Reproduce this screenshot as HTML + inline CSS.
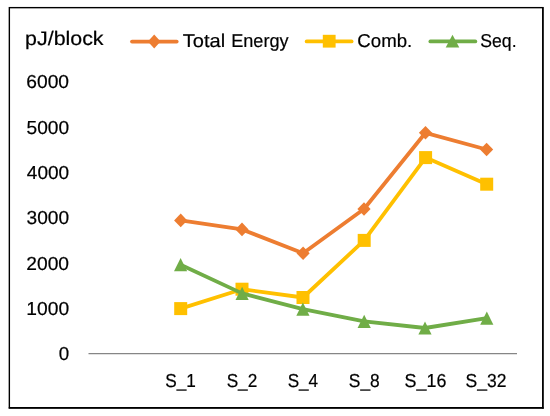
<!DOCTYPE html>
<html><head><meta charset="utf-8"><title>Chart</title>
<style>
html,body{margin:0;padding:0;background:#fff;}
body{width:550px;height:416px;overflow:hidden;}
svg{display:block;}
text{font-family:"Liberation Sans",sans-serif;fill:#000;stroke:#000;stroke-width:0.2px;text-rendering:geometricPrecision;}
</style></head><body>
<svg width="550" height="416" viewBox="0 0 550 416">
<rect x="0" y="0" width="550" height="416" fill="#fff"/>
<rect x="9.35" y="7.65" width="533.4" height="400.05" fill="#fff" stroke="#000" stroke-width="1.4"/>
<line x1="542.95" y1="7" x2="542.95" y2="408.75" stroke="#000" stroke-width="1.4"/>
<line x1="8.65" y1="407.95" x2="543.75" y2="407.95" stroke="#000" stroke-width="1.6"/>
<line x1="88.5" y1="353.6" x2="517" y2="353.6" stroke="#868686" stroke-width="1.3"/>
<polyline fill="none" stroke="#ED7D31" stroke-width="3.8" stroke-linejoin="round" stroke-linecap="round" points="180.7,220.4 242.0,229.4 303.1,253.3 364.0,209.0 425.5,132.8 486.6,149.5"/>
<polygon fill="#ED7D31" points="174.1,220.4 180.7,213.6 187.3,220.4 180.7,227.2"/>
<polygon fill="#ED7D31" points="235.4,229.4 242.0,222.6 248.6,229.4 242.0,236.2"/>
<polygon fill="#ED7D31" points="296.5,253.3 303.1,246.5 309.7,253.3 303.1,260.1"/>
<polygon fill="#ED7D31" points="357.4,209.0 364.0,202.2 370.6,209.0 364.0,215.8"/>
<polygon fill="#ED7D31" points="418.9,132.8 425.5,126.0 432.1,132.8 425.5,139.6"/>
<polygon fill="#ED7D31" points="480.0,149.5 486.6,142.7 493.2,149.5 486.6,156.3"/>
<polyline fill="none" stroke="#FFC000" stroke-width="3.8" stroke-linejoin="round" stroke-linecap="round" points="180.7,308.6 242.0,289.2 303.0,297.5 364.2,240.4 425.6,157.6 486.7,184.2"/>
<rect fill="#FFC000" x="174.2" y="302.1" width="13.0" height="13.0"/>
<rect fill="#FFC000" x="235.5" y="282.7" width="13.0" height="13.0"/>
<rect fill="#FFC000" x="296.5" y="291.0" width="13.0" height="13.0"/>
<rect fill="#FFC000" x="357.7" y="233.9" width="13.0" height="13.0"/>
<rect fill="#FFC000" x="419.1" y="151.1" width="13.0" height="13.0"/>
<rect fill="#FFC000" x="480.2" y="177.7" width="13.0" height="13.0"/>
<polyline fill="none" stroke="#70AD47" stroke-width="3.8" stroke-linejoin="round" stroke-linecap="round" points="180.6,264.7 242.1,293.4 302.9,309.2 364.2,321.4 425.0,328.0 486.8,318.1"/>
<polygon fill="#70AD47" points="180.6,258.1 187.2,271.3 174.0,271.3"/>
<polygon fill="#70AD47" points="242.1,286.8 248.7,300.0 235.5,300.0"/>
<polygon fill="#70AD47" points="302.9,302.6 309.5,315.8 296.3,315.8"/>
<polygon fill="#70AD47" points="364.2,314.8 370.8,328.0 357.6,328.0"/>
<polygon fill="#70AD47" points="425.0,321.4 431.6,334.6 418.4,334.6"/>
<polygon fill="#70AD47" points="486.8,311.5 493.4,324.7 480.2,324.7"/>
<line x1="132" y1="41.6" x2="176.7" y2="41.6" stroke="#ED7D31" stroke-width="3.8" stroke-linecap="round"/>
<polygon fill="#ED7D31" points="147.9,41.5 154.2,34.6 160.5,41.5 154.2,48.4"/>
<line x1="306.7" y1="41.4" x2="351.6" y2="41.4" stroke="#FFC000" stroke-width="3.8" stroke-linecap="round"/>
<rect fill="#FFC000" x="322.8" y="34.8" width="12.8" height="12.8"/>
<line x1="430.4" y1="41.4" x2="475.3" y2="41.4" stroke="#70AD47" stroke-width="3.8" stroke-linecap="round"/>
<polygon fill="#70AD47" points="452.5,34.8 459.3,47.6 445.7,47.6"/>
<text id="unit" x="25.11" y="44.90" font-size="19.60" textLength="78.46" lengthAdjust="spacingAndGlyphs">pJ/block</text>
<text id="y6" x="26.34" y="88.31" font-size="18.80" textLength="42.72" lengthAdjust="spacingAndGlyphs">6000</text>
<text id="y5" x="26.54" y="133.61" font-size="18.80" textLength="42.52" lengthAdjust="spacingAndGlyphs">5000</text>
<text id="y4" x="26.83" y="178.91" font-size="18.80" textLength="42.23" lengthAdjust="spacingAndGlyphs">4000</text>
<text id="y3" x="26.54" y="224.21" font-size="18.80" textLength="42.52" lengthAdjust="spacingAndGlyphs">3000</text>
<text id="y2" x="26.34" y="269.51" font-size="18.80" textLength="42.72" lengthAdjust="spacingAndGlyphs">2000</text>
<text id="y1" x="26.36" y="314.81" font-size="18.80" textLength="42.70" lengthAdjust="spacingAndGlyphs">1000</text>
<text id="y0" x="58.65" y="360.11" font-size="18.80" textLength="10.42" lengthAdjust="spacingAndGlyphs">0</text>
<text id="x1" x="165.23" y="386.81" font-size="18.80" textLength="30.62" lengthAdjust="spacingAndGlyphs">S_1</text>
<text id="x2" x="226.63" y="386.81" font-size="18.80" textLength="30.62" lengthAdjust="spacingAndGlyphs">S_2</text>
<text id="x4" x="287.63" y="386.81" font-size="18.80" textLength="30.47" lengthAdjust="spacingAndGlyphs">S_4</text>
<text id="x8" x="348.82" y="386.81" font-size="18.80" textLength="30.95" lengthAdjust="spacingAndGlyphs">S_8</text>
<text id="x16" x="404.59" y="386.81" font-size="18.80" textLength="41.82" lengthAdjust="spacingAndGlyphs">S_16</text>
<text id="x32" x="465.61" y="386.81" font-size="18.80" textLength="40.87" lengthAdjust="spacingAndGlyphs">S_32</text>
<text id="l1" font-size="18.60"><tspan x="182.80" y="47.30" textLength="42.35" lengthAdjust="spacingAndGlyphs">Total</tspan> <tspan x="231.15" y="47.30" textLength="57.41" lengthAdjust="spacingAndGlyphs">Energy</tspan></text>
<text id="l2" x="357.37" y="47.30" font-size="18.60" textLength="54.92" lengthAdjust="spacingAndGlyphs">Comb.</text>
<text id="l3" x="480.31" y="47.30" font-size="18.60" textLength="36.22" lengthAdjust="spacingAndGlyphs">Seq.</text>
</svg></body></html>
